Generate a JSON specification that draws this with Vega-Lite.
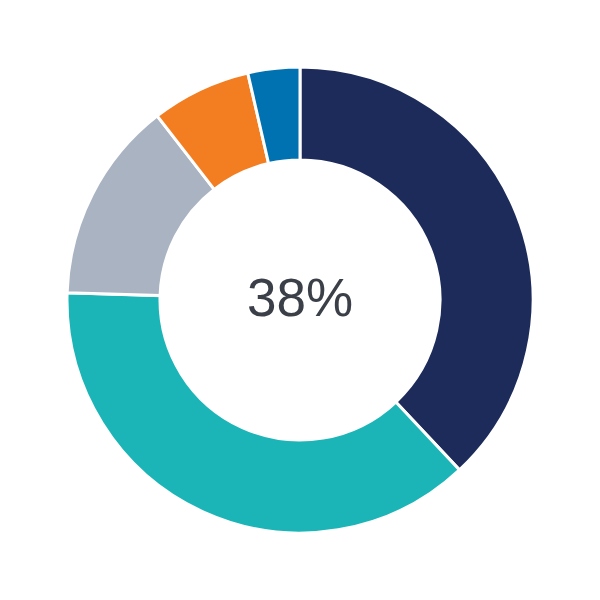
{
  "$schema": "https://vega.github.io/schema/vega-lite/v6.json",
  "width": 600,
  "height": 600,
  "autosize": {"type": "fit", "contains": "padding"},
  "padding": 0,
  "background": "white",
  "view": {"stroke": null},
  "layer": [
    {
      "data": {
        "values": [
          {"segment": "A", "value": 38, "rank": 1},
          {"segment": "B", "value": 37.5, "rank": 2},
          {"segment": "C", "value": 14, "rank": 3},
          {"segment": "D", "value": 6.9, "rank": 4},
          {"segment": "E", "value": 3.6, "rank": 5}
        ]
      },
      "mark": {"type": "arc", "outerRadius": 233, "innerRadius": 140, "stroke": "white", "strokeWidth": 3},
      "encoding": {
        "theta": {"field": "value", "type": "quantitative", "stack": true},
        "order": {"field": "rank", "type": "quantitative"},
        "color": {
          "field": "segment",
          "type": "nominal",
          "legend": null,
          "scale": {
            "domain": ["A", "B", "C", "D", "E"],
            "range": ["#1c2b5a", "#1bb5b7", "#a9b3c1", "#f37e22", "#0071b1"]
          }
        }
      }
    },
    {
      "data": {"values": [{"label": "38%"}]},
      "mark": {"type": "text", "fontSize": 53, "font": "Liberation Sans", "color": "#3b3f48", "align": "center", "baseline": "middle"},
      "encoding": {
        "text": {"field": "label", "type": "nominal"}
      }
    }
  ]
}
